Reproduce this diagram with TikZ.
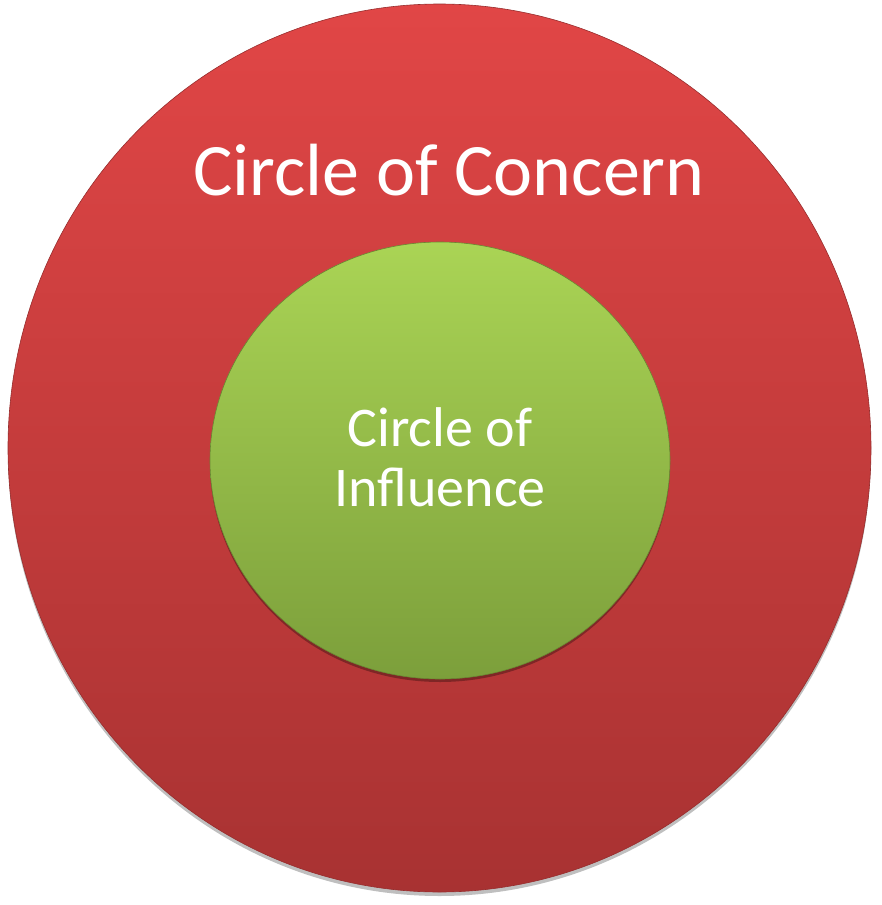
\documentclass[tikz,border=0pt]{standalone}
\usepackage{fontspec}
\usepackage{tikz}
\usetikzlibrary{shapes.geometric,shadows}
\newfontfamily\labelfont{Carlito}
\definecolor{concern_top}{HTML}{E14646}
\definecolor{concern_bot}{HTML}{A83232}
\definecolor{influence_top}{HTML}{AAD455}
\definecolor{influence_bot}{HTML}{7C9F3B}
\tikzstyle{circ_o} = [ellipse, inner sep=0pt, minimum width=863pt, minimum height=888pt, top color=concern_top, bottom color=concern_bot, draw=concern_bot!90!black, line width=0.6pt, general shadow={shadow yshift=-4pt, fill=black, opacity=0.25}]
\tikzstyle{circ_i} = [ellipse, inner sep=0pt, minimum width=460pt, minimum height=437pt, top color=influence_top, bottom color=influence_bot, draw=influence_bot!85!black, line width=0.6pt, general shadow={shadow yshift=-3pt, fill=black, opacity=0.3}]
\tikzstyle{circ_t} = [white, align=center, inner sep=0pt]
\begin{document}
\begin{tikzpicture}[x=1pt,y=-1pt]
\useasboundingbox (0,0) rectangle (881,905);
\node [circ_o] (concern) at (439.5,448) {};
\node [circ_i] (influence) at (440,460.5) {};
\node [circ_t, anchor=base, font=\labelfont\fontsize{74}{80}\selectfont] (concern label) at (449,195) {Circle of Concern};
\node [circ_t, font=\labelfont\fontsize{56}{60}\selectfont] (influence label) at (440,457) {Circle of\\Influence};
\end{tikzpicture}
\end{document}
